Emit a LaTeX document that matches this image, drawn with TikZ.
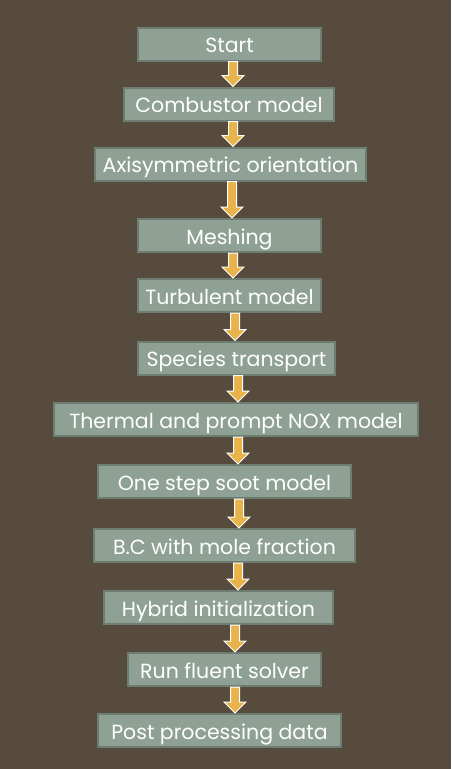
\documentclass[tikz,border=0pt]{standalone}
\usepackage{fontspec}
\setmainfont{Poppins}
\usetikzlibrary{calc}
\definecolor{bgbrown}{HTML}{574B3E}
\definecolor{boxfill}{HTML}{8FA095}
\definecolor{boxline}{HTML}{6E7D72}
\definecolor{arrowgold}{HTML}{E8B34A}
\tikzset{
  stage/.style={draw=boxline, line width=2pt, fill=boxfill, text=white,
    minimum height=33pt, inner sep=0pt, text height=17pt, text depth=0pt,
    font=\fontsize{20.5}{24}\selectfont},
  flow/.style={fill=arrowgold, draw=white, line width=1pt,
    to path={let \p1=(\tikztostart), \p2=(\tikztotarget) in
      (\x1-4.5pt,\y1) -- (\x1+4.5pt,\y1) -- (\x1+4.5pt,\y2+11pt)
      -- (\x1+11pt,\y2+11pt) -- (\x1,\y2) -- (\x1-11pt,\y2+11pt)
      -- (\x1-4.5pt,\y2+11pt) -- cycle}}
}
\begin{document}
\begin{tikzpicture}[x=1pt,y=-1pt]
    \fill[bgbrown] (0,0) rectangle (451,769);
    \useasboundingbox (0,0) rectangle (451,769);

    \node[stage, minimum width=183pt] (start)     at (229.5,44)  {Start};
    \node[stage, minimum width=210pt] (combustor) at (229,104)   {Combustor model};
    \node[stage, minimum width=271pt] (axisym)    at (230.5,164) {Axisymmetric orientation};
    \node[stage, minimum width=183pt] (meshing)   at (229.5,235.5) {Meshing};
    \node[stage, minimum width=183pt] (turbulent) at (229.5,295.5) {Turbulent model};
    \node[stage, minimum width=197pt] (species)   at (236.5,358) {Species transport};
    \node[stage, minimum width=364pt] (nox)       at (236,419.5) {Thermal and prompt NOX model};
    \node[stage, minimum width=253pt] (soot)      at (224.5,481.5) {One step soot model};
    \node[stage, minimum width=261pt] (bc)        at (224.5,545.5) {B.C with mole fraction};
    \node[stage, minimum width=229pt] (hybrid)    at (218.5,607.5) {Hybrid initialization};
    \node[stage, minimum width=193pt] (solver)    at (224.5,669.5) {Run fluent solver};
    \node[stage, minimum width=243pt] (post)      at (219.5,730.5) {Post processing data};

    \draw[flow] (start.south -| 233,0)     to (combustor.north -| 233,0);
    \draw[flow] (combustor.south -| 233,0) to (axisym.north -| 233,0);
    \draw[flow] (axisym.south -| 232,0)    to (meshing.north -| 232,0);
    \draw[flow] (meshing.south -| 233,0)   to (turbulent.north -| 233,0);
    \draw[flow] (turbulent.south -| 235,0) to (species.north -| 235,0);
    \draw[flow] (species.south -| 238,0)   to (nox.north -| 238,0);
    \draw[flow] (nox.south -| 238,0)       to (soot.north -| 238,0);
    \draw[flow] (soot.south -| 239,0)      to (bc.north -| 239,0);
    \draw[flow] (bc.south -| 238,0)        to (hybrid.north -| 238,0);
    \draw[flow] (hybrid.south -| 235,0)    to (solver.north -| 235,0);
    \draw[flow] (solver.south -| 235,0)    to (post.north -| 235,0);
\end{tikzpicture}
\end{document}
